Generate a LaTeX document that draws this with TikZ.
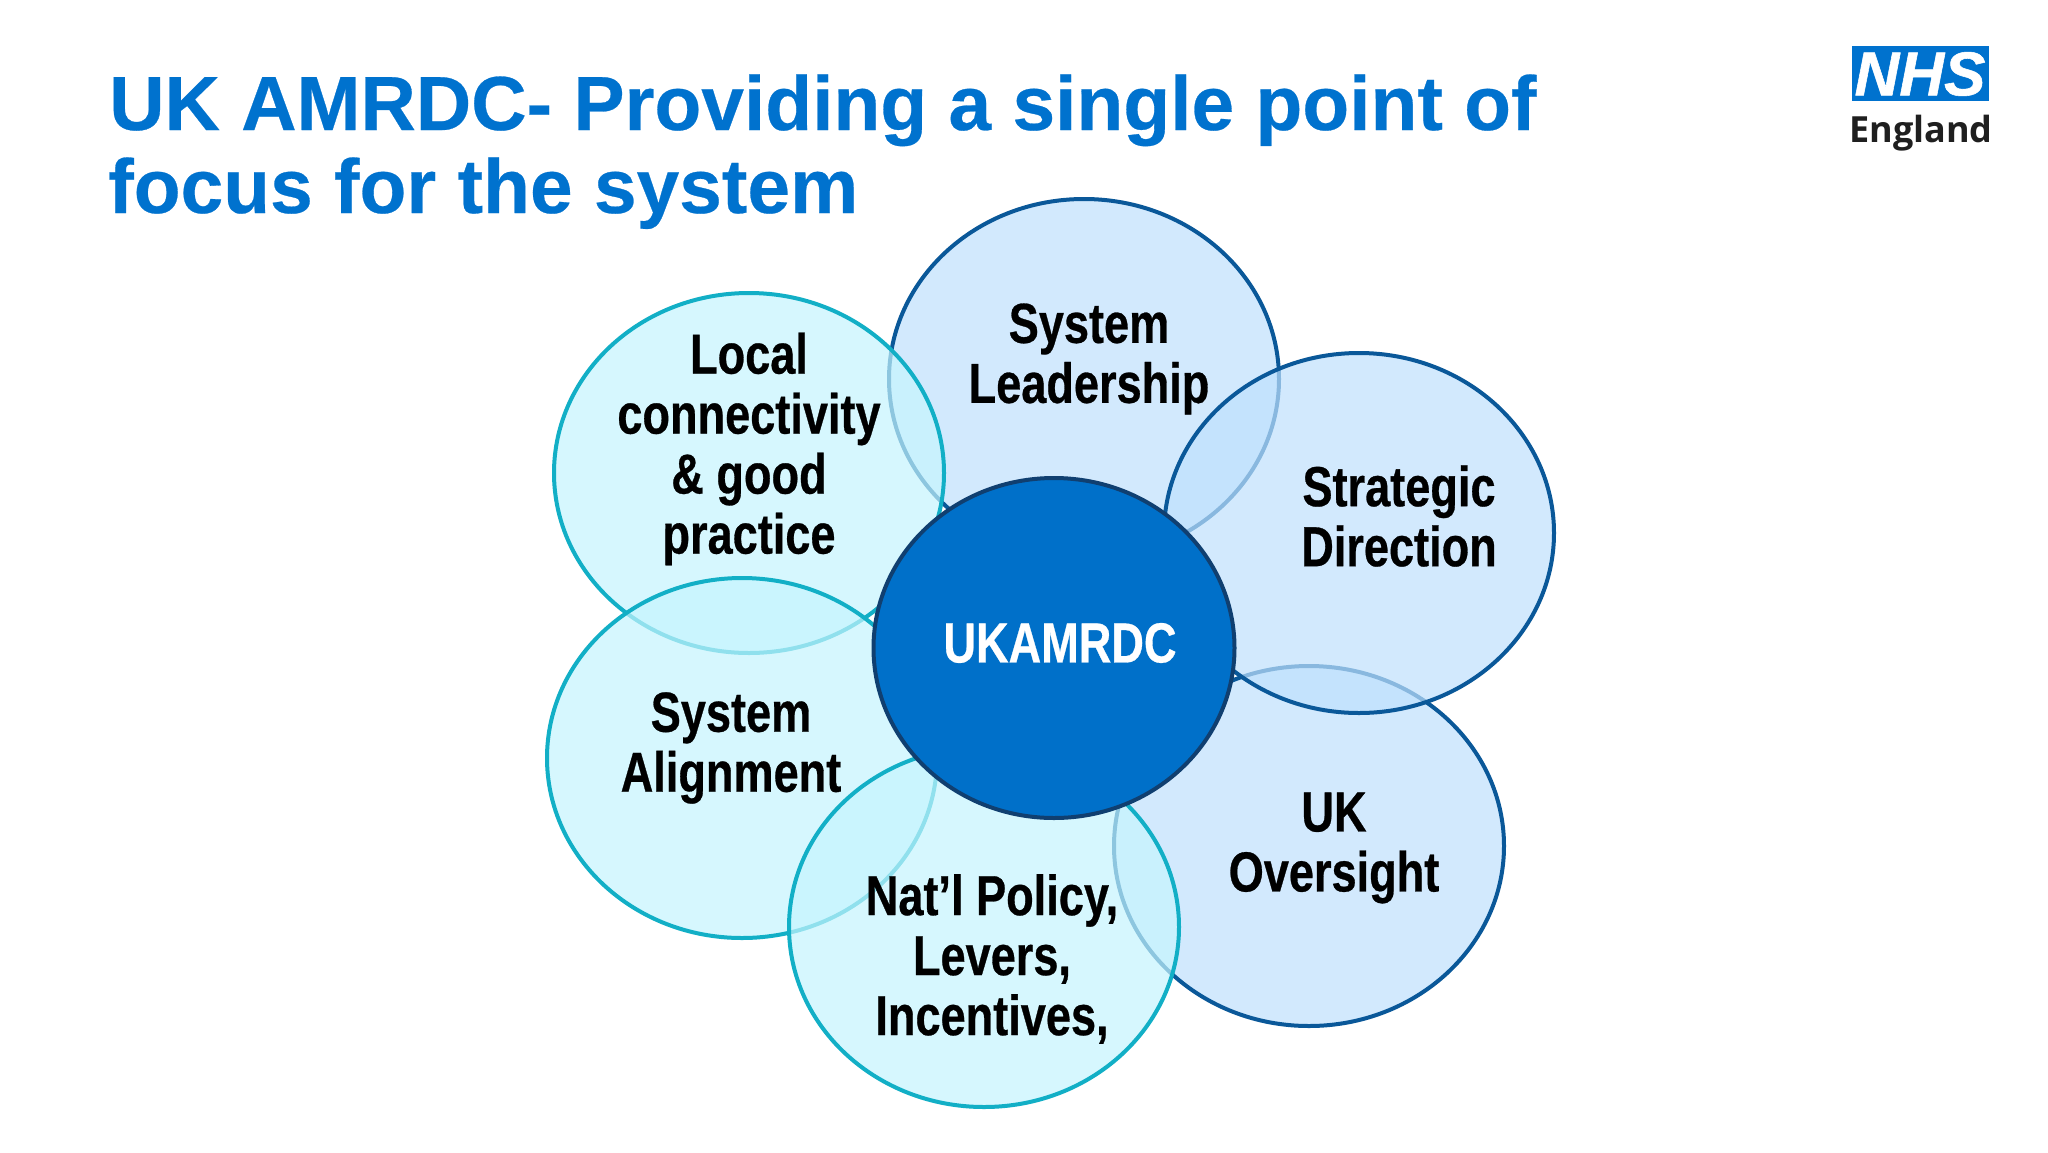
\documentclass[tikz,border=0pt]{standalone}
\usepackage{fontspec}
\usetikzlibrary{shapes.geometric}
\setmainfont{Liberation Sans}[BoldFeatures={FakeBold=0.35},BoldItalicFeatures={FakeBold=0.9}]
\newfontfamily\condfont{Liberation Sans}[BoldFeatures={FakeStretch=0.8,FakeBold=0.5}]
\newfontfamily\logofont{Open Sans}
\definecolor{titleblue}{HTML}{0072CE}
\definecolor{bluefill}{HTML}{BFE1FD}
\definecolor{bluerim}{HTML}{0A5899}
\definecolor{tealfill}{HTML}{C6F5FE}
\definecolor{tealrim}{HTML}{12AFC6}
\definecolor{corefill}{HTML}{0070C9}
\definecolor{corerim}{HTML}{103F70}
\tikzset{
  petal/.style={ellipse,minimum width=390pt,minimum height=360pt,inner sep=0pt,line width=4pt,fill opacity=0.7},
  bluepetal/.style={petal,draw=bluerim,fill=bluefill},
  tealpetal/.style={petal,draw=tealrim,fill=tealfill},
  core/.style={ellipse,minimum width=361pt,minimum height=340pt,inner sep=0pt,line width=4pt,draw=corerim,fill=corefill},
  petaltext/.style={align=center,inner sep=0pt,text=black,font=\condfont\bfseries\fontsize{56.4}{60}\selectfont},
  coretext/.style={petaltext,text=white},
  titletext/.style={anchor=base west,inner sep=0pt,text=titleblue,font=\bfseries\fontsize{76.7}{83}\selectfont},
  logobox/.style={draw=none,fill=titleblue,minimum width=137pt,minimum height=55pt,inner sep=0pt},
  logonhs/.style={inner sep=0pt,text=white,font=\bfseries\itshape\fontsize{62}{62}\selectfont},
  logoword/.style={anchor=base,inner sep=0pt,text=black!88,font=\logofont\bfseries\fontsize{36}{36}\selectfont}
}
\begin{document}
\begin{tikzpicture}[x=1pt,y=-1pt]
\path[use as bounding box,fill=white] (0,0) rectangle (2048,1152);
\node[titletext] (title1) at (109,130) {UK AMRDC- Providing a single point of};
\node[titletext] (title2) at (108,213) {focus for the system};
\node[logobox] (logo) at (1920.5,73.5) {};
\node[logonhs] (nhs) at (1920,74) {NHS};
\node[logoword] (england) at (1921,142) {England};
\node[bluepetal] (lead) at (1084,379) {};
\node[bluepetal] (over) at (1309,846) {};
\node[bluepetal] (strat) at (1359,533) {};
\node[tealpetal] (local) at (749,473) {};
\node[tealpetal] (align) at (742,758) {};
\node[tealpetal] (policy) at (984,927) {};
\node[core] (centre) at (1054,648) {};
\node[petaltext] (leadt) at (1089,359) {System\\Leadership};
\node[petaltext] (overt) at (1334,848) {UK\\Oversight};
\node[petaltext] (stratt) at (1399,516) {Strategic\\Direction};
\node[petaltext] (localt) at (749,449) {Local\\connectivity\\\& good\\practice};
\node[petaltext] (alignt) at (731,748) {System\\Alignment};
\node[petaltext] (policyt) at (992,959) {Nat’l Policy,\\Levers,\\Incentives,};
\node[coretext] (centret) at (1060,643) {UKAMRDC};
\end{tikzpicture}
\end{document}
